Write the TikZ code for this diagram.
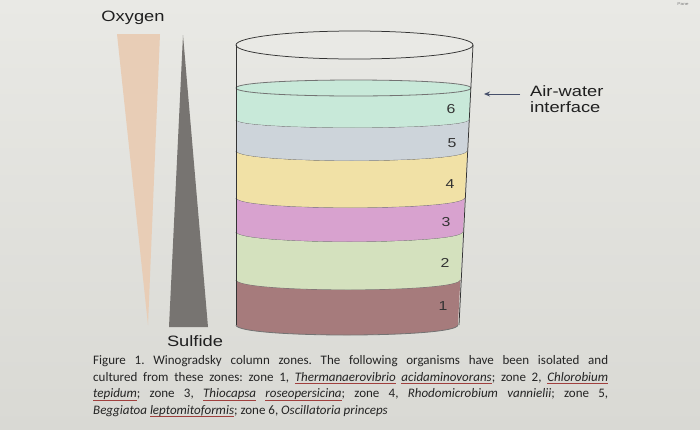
\documentclass[tikz,border=0pt]{standalone}
\usepackage{fontspec}
\setmainfont{Carlito}
\newfontfamily\lblfont[FakeStretch=1.22]{Liberation Sans}
\usetikzlibrary{arrows.meta}
\frenchspacing
\definecolor{bgtop}{HTML}{E9E9E5}
\definecolor{bgbot}{HTML}{D9D9D4}
\definecolor{oxyc}{HTML}{E8CDB6}
\definecolor{sulc}{HTML}{777471}
\definecolor{zsix}{HTML}{C8E9D9}
\definecolor{zfive}{HTML}{CDD4DA}
\definecolor{zfour}{HTML}{F1E1A6}
\definecolor{zthree}{HTML}{D8A2CF}
\definecolor{ztwo}{HTML}{D4E1BE}
\definecolor{zone}{HTML}{A67B7C}
\definecolor{arrowc}{HTML}{47506B}
\definecolor{capc}{HTML}{242424}
\definecolor{wavec}{HTML}{A0403E}
\newcommand\sqw[1]{\setbox0\hbox{#1}\rlap{\hbox{\textcolor{wavec}{\rule[-2.3pt]{\wd0}{0.6pt}}}}\box0\relax}
\newcommand\zoneband[5]{%
  \pgfmathsetmacro\Rt{473-0.054*(#2-45)}%
  \pgfmathsetmacro\Rb{473-0.054*(#4-45)}%
  \fill[#1] (236,#2) .. controls (236,#2+1.333*#3) and (\Rt,#2+1.333*#3) .. (\Rt,#2)
     -- (\Rb,#4) .. controls (\Rb,#4+1.333*#5) and (236,#4+1.333*#5) .. (236,#4) -- cycle;
  \draw[zline] (236,#4) .. controls (236,#4+1.333*#5) and (\Rb,#4+1.333*#5) .. (\Rb,#4);
}
\tikzset{
  lbl/.style={font=\lblfont\fontsize{15}{16}\selectfont, text=black!88, inner sep=0pt},
  numlbl/.style={font=\lblfont\fontsize{13}{14}\selectfont, text=black!80, inner sep=0pt},
  zline/.style={draw=black!55, line width=0.8pt},
  sideline/.style={draw=black!80, line width=0.75pt},
}
\begin{document}
\begin{tikzpicture}[x=1pt,y=-1pt]
\path[use as bounding box] (0,0) rectangle (700,429);
\shade[top color=bgtop, bottom color=bgbot] (0,0) rectangle (700,429);
\node[font=\lblfont\fontsize{4}{5}\selectfont, text=black!50, inner sep=0pt] (pane) at (683,4) {Pane};

% gradients
\fill[oxyc] (117,34) -- (160,34) -- (148,325) -- cycle;
\fill[sulc] (183,35) -- (208,327) -- (169,327) -- cycle;
\node[lbl] (oxy) at (133,18) {Oxygen};
\node[lbl] (sulf) at (195,341) {Sulfide};

% column interior above water
\fill[bgtop] (354.5,45) ellipse [x radius=118.5pt, y radius=14pt];
% zone 6 (with water surface)
\fill[zsix] (236,88) .. controls (236,88-1.333*8) and (471,88-1.333*8) .. (471,88)
   -- (468.95,120) .. controls (468.95,120+1.333*8) and (236,120+1.333*8) .. (236,120) -- cycle;
\draw[zline] (236,120) .. controls (236,120+1.333*8) and (468.95,120+1.333*8) .. (468.95,120);
\draw[zline] (236,88) .. controls (236,88-1.333*8) and (471,88-1.333*8) .. (471,88)
   .. controls (471,88+1.333*8) and (236,88+1.333*8) .. (236,88);
\zoneband{zfive}{120}{8}{151}{10}
\zoneband{zfour}{151}{10}{198}{10}
\zoneband{zthree}{198}{10}{232}{10}
\zoneband{ztwo}{232}{10}{280}{10}
\zoneband{zone}{280}{10}{325}{10}
% column outline
\draw[sideline] (354.5,45) ellipse [x radius=118.5pt, y radius=14pt];
\draw[sideline] (236,45) -- (236,325);
\draw[sideline] (473,45) -- (459,325);

\node[numlbl] (n6) at (451,109) {6};
\node[numlbl] (n5) at (452,143) {5};
\node[numlbl] (n4) at (450,184) {4};
\node[numlbl] (n3) at (446,222) {3};
\node[numlbl] (n2) at (445,263) {2};
\node[numlbl] (n1) at (443,306) {1};

% air-water interface
\node[lbl, align=left, anchor=west] (air) at (530,99.5) {Air-water\\interface};
\coordinate (surf) at (484,94);
\coordinate (tail) at (520,94);
\draw[-{Stealth[length=6pt,width=5pt]}, draw=arrowc, fill=arrowc, line width=0.9pt] (tail) -- (surf);

% caption
\node[anchor=north west, inner sep=0pt, text width=515pt, align=justify, text=capc,
      font=\fontsize{13}{16.8}\selectfont] (cap) at (93,355)
{Figure 1. Winogradsky column zones. The following organisms have been isolated and\linebreak
cultured from these zones: zone 1, \sqw{\emph{Thermanaerovibrio}} \sqw{\emph{acidaminovorans}}; zone 2, \sqw{\emph{Chlorobium}}\linebreak
\sqw{\emph{tepidum}}; zone 3, \sqw{\emph{Thiocapsa}} \sqw{\emph{roseopersicina}}; zone 4, \emph{Rhodomicrobium vannielii}; zone 5,\linebreak
\emph{Beggiatoa} \sqw{\emph{leptomitoformis}}; zone 6, \emph{Oscillatoria princeps}};
\end{tikzpicture}
\end{document}
